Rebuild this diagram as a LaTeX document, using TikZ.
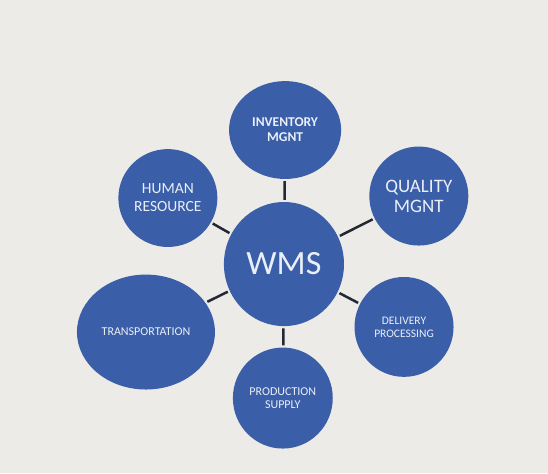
\documentclass[tikz,border=0pt]{standalone}
\usepackage{fontspec}
\setmainfont{Carlito}
\usepackage{tikz}
\usetikzlibrary{shapes.geometric}
\definecolor{wmsblue}{RGB}{58,94,168}
\definecolor{wmstext}{RGB}{234,239,248}
\definecolor{wmsline}{RGB}{35,40,52}
\definecolor{wmsback}{RGB}{237,235,231}
\tikzset{
    wmsnode/.style = {ellipse, draw=none, fill=wmsblue, text=wmstext, inner sep=0pt, align=center},
    edgen/.style = {-, line width=2.5pt, wmsline, shorten >=2pt, shorten <=2pt},
}

\begin{document}
\begin{tikzpicture}[scale=1.00,transform shape]
\fill[wmsback] (-9.98,-7.35) rectangle (9.28,9.28);
\useasboundingbox (-9.98,-7.35) rectangle (9.28,9.28);

\node[wmsnode, minimum width=4.22cm, minimum height=4.36cm, font=\fontsize{34}{36}\selectfont] at ( 0.00,  0.00) (wms) {WMS};
\node[wmsnode, minimum width=3.94cm, minimum height=3.44cm, font=\fontsize{13.5}{15}\selectfont\bfseries] at ( 0.04,  4.71) (inv) {INVENTORY\\MGNT};
\node[wmsnode, minimum width=3.48cm, minimum height=3.44cm, font=\fontsize{15.5}{18}\selectfont] at (-4.08,  2.32) (hr) {HUMAN\\RESOURCE};
\node[wmsnode, minimum width=3.48cm, minimum height=3.48cm, font=\fontsize{19}{20}\selectfont] at ( 4.74,  2.39) (qual) {QUALITY\\MGNT};
\node[wmsnode, minimum width=4.85cm, minimum height=4.04cm, font=\fontsize{12}{13}\selectfont] at (-4.85, -2.39) (trans) {TRANSPORTATION};
\node[wmsnode, minimum width=3.48cm, minimum height=3.51cm, font=\fontsize{11.5}{13}\selectfont] at ( 4.22, -2.21) (deliv) {DELIVERY\\PROCESSING};
\node[wmsnode, minimum width=3.51cm, minimum height=3.55cm, font=\fontsize{12}{13}\selectfont] at (-0.04, -4.71) (prod) {PRODUCTION\\SUPPLY};

\draw[edgen] (wms) edge (inv);
\draw[edgen] (wms) edge (hr);
\draw[edgen] (wms) edge (qual);
\draw[edgen] (wms) edge (trans);
\draw[edgen] (wms) edge (deliv);
\draw[edgen] (wms) edge (prod);

\end{tikzpicture}
\end{document}
